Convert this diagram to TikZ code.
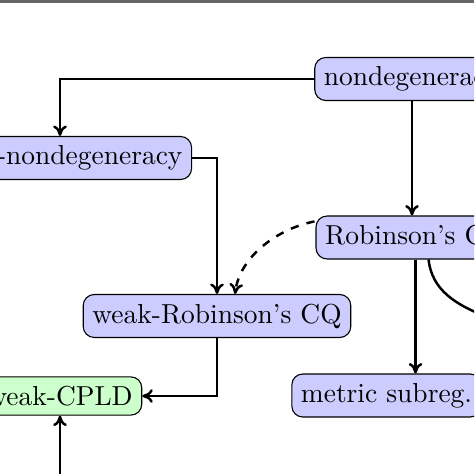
\documentclass[tikz,border=0pt]{standalone}
\usetikzlibrary{calc,arrows.meta}
\begin{document}
\begin{tikzpicture}[x=0.3643pt,y=-0.3643pt,
    box/.style={draw,rounded corners=4pt,fill=blue!20},
    gbox/.style={box,fill=green!20},
    link/.style={-{To[length=3.8pt,width=5pt]},line width=0.9pt}]
    \useasboundingbox (0,0) rectangle (474,474);
    \clip (0,0) rectangle (474,474);
    \fill[black!60] (0,0) rectangle (474,2.7);

    \node[box] (ND) at (412,79) {nondegeneracy};
    \node[box] (WN) at (60,158) {weak-nondegeneracy};
    \node[box] (RC) at (415.5,237.5) {Robinson's CQ};
    \node[box] (WR) at (217,316) {weak-Robinson's CQ};
    \node[gbox] (WC) at (60,396) {weak-CPLD};
    \node[box] (MS) at (386.5,395.5) {metric subreg.};
    \coordinate (below) at (60,480);
    \coordinate (away) at (490,318);

    \draw[link] (ND.west) -| (WN.north);
    \draw[link] (WN.east) -| (WR.north);
    \draw[link] (WR.south) |- (WC.east);
    \draw[link] (below) -- (WC.south);
    \draw[link] (ND.south) -- (ND.south |- RC.north);
    \draw[link] (RC.south) -- (RC.south |- MS.north);
    \draw[link,dashed] ($(RC.north west)+(-1,6)$) .. controls (280,228) and (240,255) .. ($(WR.north)+(18,0)$);
    \draw[line width=0.9pt] ($(RC.south)+(13,0)$) .. controls (432,290) and (455,305) .. (away);
\end{tikzpicture}
\end{document}
